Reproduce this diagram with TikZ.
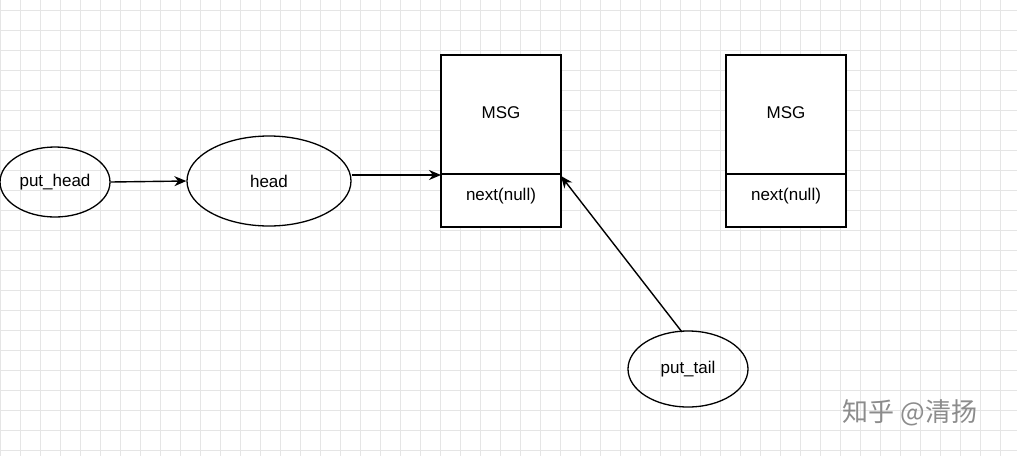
\documentclass[tikz,border=0pt]{standalone}
\usepackage{fontspec}
\setmainfont{Liberation Sans}
\newfontfamily\cjk{Noto Sans CJK SC}
\usetikzlibrary{arrows.meta,shapes.geometric}
\begin{document}
\begin{tikzpicture}[x=1pt,y=-1pt,
  ell/.style={draw,line width=1.3pt,ellipse,inner sep=0pt,font=\fontsize{17}{19}\selectfont},
  arr/.style={draw,line width=1.4pt,-{Stealth[length=12pt,width=10pt]}},
  gridln/.style={black!10,line width=0.6pt},
  boxln/.style={line width=1.3pt},
  lbl/.style={font=\fontsize{17}{19}\selectfont}]
\useasboundingbox (0,0) rectangle (1017,456);
\fill[white] (0,0) rectangle (1017,456);
\foreach \i in {0,20,...,1010} \draw[gridln] (\i,0) -- (\i,456);
\foreach \j in {10,30,...,450} \draw[gridln] (0,\j) -- (1017,\j);
\node[ell,minimum width=110pt,minimum height=70pt] (ph) at (55,182) {put\_head};
\node[ell,minimum width=164pt,minimum height=90pt] (hd) at (269,181) {head};
\node[ell,minimum width=120pt,minimum height=76pt] (pt) at (688,369) {put\_tail};
\draw[boxln,fill=white] (441,55) rectangle (561,227);
\draw[boxln] (441,174) -- (561,174);
\node[lbl] (m1) at (501,113) {MSG};
\node[lbl] (n1) at (501,196) {next(null)};
\draw[boxln,fill=white] (726,55) rectangle (846,227);
\draw[boxln] (726,174) -- (846,174);
\node[lbl] (m2) at (786,113) {MSG};
\node[lbl] (n2) at (786,196) {next(null)};
\coordinate (b1l) at (441,175);
\coordinate (b1r) at (561,176);
\draw[arr] (ph.east) -- (hd.west);
\draw[arr] (hd.east |- b1l) -- (b1l);
\draw[arr] (682,332) -- (b1r);
\node[font=\cjk\fontsize{26}{28}\selectfont,text=black!45] (wm) at (910,413) {知乎 @清扬};
\end{tikzpicture}
\end{document}
